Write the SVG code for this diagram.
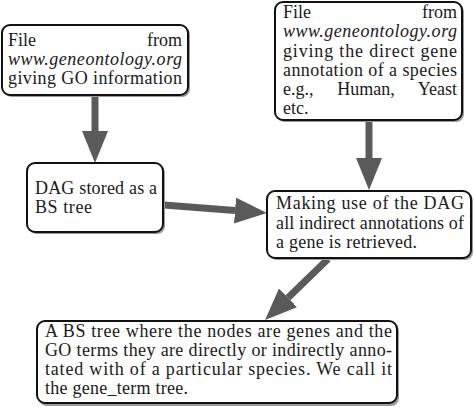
<svg xmlns="http://www.w3.org/2000/svg" width="474" height="407" viewBox="0 0 474 407">
<defs>
<style>
.box{fill:#fff;stroke:#111;stroke-width:2}
.sh{fill:#9a9a9a}
.t{font-family:"Liberation Serif","Times New Roman",serif;font-size:18px;fill:#1a1a1a}
.i{font-style:italic}
.c{fill:none;stroke:#5a5a5a;stroke-width:7}
</style>
<marker id="ah" viewBox="0 0 32 26" refX="0" refY="13" markerWidth="32" markerHeight="26" markerUnits="userSpaceOnUse" orient="auto">
<path d="M0,0 L32,13 L0,26 Z" fill="#5a5a5a"/>
</marker>
</defs>
<rect width="474" height="407" fill="#fff"/>
<g id="connectors">
<path class="c" d="M95,96 L95,131" marker-end="url(#ah)"/>
<path class="c" d="M369,121 L369,158" marker-end="url(#ah)"/>
<path class="c" d="M164,205 L235,210.6" marker-end="url(#ah)"/>
<path class="c" d="M328,259 L288,297.8" marker-end="url(#ah)"/>
</g>
<g id="n1">
<rect class="sh" x="4" y="27" width="186" height="70" rx="8"/>
<rect class="box" x="2" y="25" width="186" height="70" rx="8"/>
<text class="t" x="8" y="46">File</text>
<text class="t" x="182" y="46" text-anchor="end">from</text>
<text class="t i" x="8" y="65" textLength="174" lengthAdjust="spacing">www.geneontology.org</text>
<text class="t" x="8" y="84" textLength="174" lengthAdjust="spacing">giving GO information</text>
</g>
<g id="n2">
<rect class="sh" x="277" y="4" width="187" height="118" rx="8"/>
<rect class="box" x="275" y="2" width="187" height="118" rx="8"/>
<text class="t" x="283" y="18">File</text>
<text class="t" x="457" y="18" text-anchor="end">from</text>
<text class="t i" x="283" y="37" textLength="174" lengthAdjust="spacing">www.geneontology.org</text>
<text class="t" x="283" y="57" textLength="174" lengthAdjust="spacing">giving the direct gene</text>
<text class="t" x="283" y="76" textLength="174" lengthAdjust="spacing">annotation of a species</text>
<text class="t" x="283" y="95">e.g.,</text>
<text class="t" x="366" y="95" text-anchor="middle">Human,</text>
<text class="t" x="457" y="95" text-anchor="end">Yeast</text>
<text class="t" x="283" y="114">etc.</text>
</g>
<g id="n3">
<rect class="sh" x="29" y="165" width="136" height="69" rx="8"/>
<rect class="box" x="27" y="163" width="136" height="69" rx="8"/>
<text class="t" x="35" y="194" textLength="122" lengthAdjust="spacing">DAG stored as a</text>
<text class="t" x="35" y="213" textLength="57" lengthAdjust="spacing">BS tree</text>
</g>
<g id="n4">
<rect class="sh" x="269" y="193" width="204" height="67" rx="8"/>
<rect class="box" x="267" y="191" width="204" height="67" rx="8"/>
<text class="t" x="276" y="209" textLength="188" lengthAdjust="spacing">Making use of the DAG</text>
<text class="t" x="276" y="229" textLength="188" lengthAdjust="spacing">all indirect annotations of</text>
<text class="t" x="276" y="248" textLength="141" lengthAdjust="spacing">a gene is retrieved.</text>
</g>
<g id="n5">
<rect class="sh" x="39" y="323" width="360" height="83" rx="8"/>
<rect class="box" x="37" y="321" width="360" height="82" rx="8"/>
<text class="t" x="45" y="337" textLength="347" lengthAdjust="spacing">A BS tree where the nodes are genes and the</text>
<text class="t" x="45" y="356" textLength="347" lengthAdjust="spacing">GO terms they are directly or indirectly anno-</text>
<text class="t" x="45" y="375" textLength="347" lengthAdjust="spacing">tated with of a particular species. We call it</text>
<text class="t" x="45" y="394" textLength="143" lengthAdjust="spacing">the gene_term tree.</text>
</g>
</svg>
